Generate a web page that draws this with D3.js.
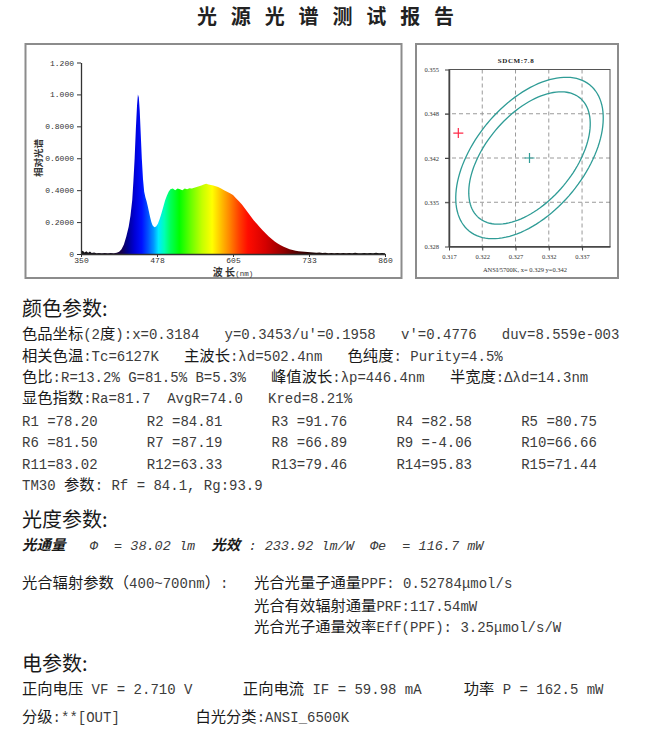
<!DOCTYPE html>
<html>
<head>
<meta charset="UTF-8">
<title>光源光谱测试报告</title>
<script src="https://cdn.jsdelivr.net/npm/d3@7"></script>
<style>
  body { margin: 0; background: #fff; }
  text { white-space: pre; }
</style>
</head>
<body>
<svg width="650" height="731"></svg>
<script>
// relative spectrum (nm / relative power)
var wavelengths = [350, 353, 356, 359, 362, 365, 368, 372, 376, 380, 385, 390, 395, 400, 405, 410, 414, 418, 422, 426,
    430, 433, 436, 438, 440, 442, 444, 445.5, 447, 448.5, 450, 452, 454, 456, 458, 460, 462, 464, 466, 468,
    470, 473, 476, 479, 482, 485, 488, 491, 494, 497, 500, 504, 508, 512, 516, 520, 524, 528, 532, 536,
    540, 544, 548, 552, 556, 560, 564, 568, 572, 576, 580, 585, 590, 595, 600, 605, 610, 615, 620, 625,
    630, 635, 640, 645, 650, 655, 660, 665, 670, 675, 680, 685, 690, 695, 700, 705, 710, 715, 720, 725,
    730, 735, 740, 745, 750, 755, 760, 765, 770, 775, 780, 785, 790, 795, 800, 805, 810, 815, 820, 825,
    830, 835, 840, 845, 850, 855, 860];
var relPower = [0.014, 0.020, 0.010, 0.018, 0.008, 0.015, 0.006, 0.010, 0.005, 0.007, 0.004, 0.006, 0.004, 0.006, 0.005, 0.008, 0.014, 0.030, 0.060, 0.110,
    0.170, 0.240, 0.340, 0.460, 0.600, 0.780, 0.930, 1.000, 0.980, 0.900, 0.770, 0.600, 0.470, 0.390, 0.355, 0.330, 0.300, 0.265, 0.230, 0.200,
    0.180, 0.168, 0.172, 0.190, 0.220, 0.255, 0.295, 0.335, 0.365, 0.390, 0.405, 0.410, 0.400, 0.410, 0.405, 0.400, 0.410, 0.405, 0.412, 0.410,
    0.415, 0.420, 0.425, 0.430, 0.435, 0.440, 0.435, 0.432, 0.430, 0.425, 0.420, 0.410, 0.400, 0.390, 0.380, 0.370, 0.350, 0.330, 0.310, 0.285,
    0.260, 0.235, 0.210, 0.190, 0.168, 0.148, 0.128, 0.110, 0.094, 0.079, 0.066, 0.055, 0.045, 0.037, 0.030, 0.025, 0.021, 0.018, 0.016, 0.014,
    0.012, 0.011, 0.009, 0.008, 0.010, 0.006, 0.008, 0.005, 0.007, 0.005, 0.006, 0.004, 0.007, 0.005, 0.006, 0.004, 0.008, 0.005, 0.004, 0.007,
    0.005, 0.006, 0.004, 0.008, 0.005, 0.006, 0.005];

// wavelength -> display colour used for the fill
var wlStops  = [350, 405, 418, 428, 440, 452, 462, 472, 480, 490, 500, 515, 535, 553, 570, 585, 600, 615, 630, 660, 690, 715, 740, 860];
var wlColors = ['#151515', '#1a0a28', '#16004c', '#00008e', '#0000d6', '#0010ff', '#0050ff', '#0098ff', '#00eaff', '#00ffb4', '#00ff5a', '#00ff00',
                '#6cff00', '#c4ff00', '#ffff00', '#ffc000', '#ff8200', '#ff4000', '#ff0c00', '#d40000', '#920000', '#4a0000', '#180000', '#111111'];

var xTicks = [350, 477.5, 605, 732.5, 860];
var xTickLabels = ['350', '478', '605', '733', '860'];
var yTicks = [0, 0.2, 0.4, 0.6, 0.8, 1.0, 1.2];
var yTickLabels = ['0', '0.2000', '0.4000', '0.6000', '0.8000', '1.000', '1.200'];

// chromaticity panel
var cieXTicks = [0.317, 0.322, 0.327, 0.332, 0.337];
var cieXTickLabels = ['0.317', '0.322', '0.327', '0.332', '0.337'];
var cieYTicks = [0.328, 0.33475, 0.3415, 0.34825, 0.355];
var cieYTickLabels = ['0.328', '0.335', '0.342', '0.348', '0.355'];
var ansiCenter = [0.3291, 0.3415];
var measuredPoint = [0.3184, 0.3453];
// [semi-major, semi-minor, tilt in degrees]
var ellipses = [[0.01437, 0.00825, 51], [0.01189, 0.00663, 50.5]];

// report text
var title = '光 源 光 谱 测 试 报 告';
var colorLines = [
    "色品坐标(2度):x=0.3184   y=0.3453/u'=0.1958   v'=0.4776   duv=8.559e-003",
    "相关色温:Tc=6127K   主波长:λd=502.4nm   色纯度: Purity=4.5%",
    "色比:R=13.2% G=81.5% B=5.3%   峰值波长:λp=446.4nm   半宽度:Δλd=14.3nm",
    "显色指数:Ra=81.7  AvgR=74.0   Kred=8.21%"
];
var riLabels = ['R1', 'R2', 'R3', 'R4', 'R5', 'R6', 'R7', 'R8', 'R9', 'R10', 'R11', 'R12', 'R13', 'R14', 'R15'];
var riValues = [78.20, 84.81, 91.76, 82.58, 80.75, 81.50, 87.19, 66.89, -4.06, 66.66, 83.02, 63.33, 79.46, 95.83, 71.44];
var tm30Line = 'TM30 参数: Rf = 84.1, Rg:93.9';
var photoLine = '光通量   Φ  = 38.02 lm  光效 : 233.92 lm/W  Φe  = 116.7 mW';
var parLabel = '光合辐射参数（400~700nm）: ';
var parLines = ['光合光量子通量PPF: 0.52784μmol/s', '光合有效辐射通量PRF:117.54mW', '光合光子通量效率Eff(PPF): 3.25μmol/s/W'];
var elecLines = ['正向电压 VF = 2.710 V      正向电流 IF = 59.98 mA     功率 P = 162.5 mW',
                 '分级:**[OUT]         白光分类:ANSI_6500K'];

var CJK = '"Noto Sans CJK SC", "Noto Sans", sans-serif',
    MONO = '"Liberation Mono", "DejaVu Sans Mono", monospace',
    SERIF = '"Liberation Serif", "DejaVu Serif", serif';

var svg = d3.select('svg');

svg.append('text')
    .attr('x', 197).attr('y', 23.5)
    .attr('textLength', 257).attr('lengthAdjust', 'spacing')
    .style('font', 'bold 20px ' + CJK).attr('fill', '#222')
    .text(title);

// ---------- spectrum ----------
var spec = svg.append('g');
spec.append('rect').attr('x', 25.5).attr('y', 44).attr('width', 376).attr('height', 234)
    .attr('fill', 'none').attr('stroke', '#8c8c8c').attr('stroke-width', 2);

var x = d3.scaleLinear().domain([350, 860]).range([81, 385]),
    y = d3.scaleLinear().domain([0, 1.2]).range([254, 62.5]);

var grad = svg.append('defs').append('linearGradient')
    .attr('id', 'wl').attr('gradientUnits', 'userSpaceOnUse')
    .attr('x1', x(350)).attr('x2', x(860)).attr('y1', 0).attr('y2', 0);
grad.selectAll('stop').data(wlStops).enter().append('stop')
    .attr('offset', d => (d - 350) / 510)
    .attr('stop-color', (d, i) => wlColors[i]);

var specData = wavelengths.map((w, i) => ({ w: w, v: relPower[i] }));
var area = d3.area().x(d => x(d.w)).y0(y(0)).y1(d => y(d.v));
spec.append('path').datum(specData).attr('d', area).attr('fill', 'url(#wl)');

var yAxis = spec.append('g').attr('transform', 'translate(' + x(350) + ',0)')
    .call(d3.axisLeft(y).tickValues(yTicks).tickFormat((d, i) => yTickLabels[i]).tickSize(4).tickSizeOuter(0));
var xAxis = spec.append('g').attr('transform', 'translate(0,' + y(0) + ')')
    .call(d3.axisBottom(x).tickValues(xTicks).tickFormat((d, i) => xTickLabels[i]).tickSize(3).tickSizeOuter(0));
[xAxis, yAxis].forEach(function (a) {
    a.select('.domain').attr('stroke', '#333').attr('stroke-width', 1.3);
    a.selectAll('.tick line').attr('stroke', '#333');
    a.selectAll('.tick text').style('font', '8px ' + MONO).attr('fill', '#333');
});
xAxis.selectAll('.tick text').attr('y', 5).attr('dy', '0.5em');

spec.append('text').attr('transform', 'translate(42,158) rotate(-90)')
    .attr('text-anchor', 'middle').style('font', 'bold 9.5px ' + CJK).attr('fill', '#333').text('相对光谱');
var xl = spec.append('text').attr('x', 233).attr('y', 275.5).attr('text-anchor', 'middle').attr('fill', '#333');
xl.append('tspan').style('font', 'bold 10px ' + CJK).text('波 长');
xl.append('tspan').style('font', '7.5px ' + MONO).text('(nm)');

// ---------- chromaticity ----------
var cie = svg.append('g');
cie.append('rect').attr('x', 416).attr('y', 44).attr('width', 202).attr('height', 234)
    .attr('fill', 'none').attr('stroke', '#8c8c8c').attr('stroke-width', 2);

var cx = d3.scaleLinear().domain([0.317, 0.3412]).range([449, 610]),
    cy = d3.scaleLinear().domain([0.328, 0.355]).range([246.5, 69.5]);

cie.selectAll('.vgrid').data(cieXTicks.slice(1)).enter().append('line')
    .attr('x1', d => cx(d)).attr('x2', d => cx(d)).attr('y1', cy(0.355)).attr('y2', cy(0.328) + 4)
    .attr('stroke', '#9a9a9a').attr('stroke-dasharray', '4,3');
cie.selectAll('.hgrid').data(cieYTicks.slice(1, 4)).enter().append('line')
    .attr('x1', cx(0.317) - 4).attr('x2', 610).attr('y1', d => cy(d)).attr('y2', d => cy(d))
    .attr('stroke', '#9a9a9a').attr('stroke-dasharray', '4,3');

cie.append('rect').attr('x', 449).attr('y', 69.5).attr('width', 161).attr('height', 177)
    .attr('fill', 'none').attr('stroke', '#555').attr('stroke-width', 1);

var cyAxis = cie.append('g').attr('transform', 'translate(449,0)')
    .call(d3.axisLeft(cy).tickValues(cieYTicks).tickFormat((d, i) => cieYTickLabels[i]).tickSize(4).tickSizeOuter(0));
var cxAxis = cie.append('g').attr('transform', 'translate(0,246.5)')
    .call(d3.axisBottom(cx).tickValues(cieXTicks).tickFormat((d, i) => cieXTickLabels[i]).tickSize(4).tickSizeOuter(0));
[cxAxis, cyAxis].forEach(function (a) {
    a.select('.domain').attr('stroke', '#444').attr('stroke-width', 1.5);
    a.selectAll('.tick line').attr('stroke', '#444');
    a.selectAll('.tick text').style('font', '6.5px ' + SERIF).attr('fill', '#333');
});
cyAxis.selectAll('.tick text').attr('x', -10);
cxAxis.selectAll('.tick text').attr('dy', '0.9em');

var ell = d3.line().x(d => cx(d[0])).y(d => cy(d[1])).curve(d3.curveLinearClosed);
ellipses.forEach(function (e) {
    var a = e[0], b = e[1], th = e[2] * Math.PI / 180, pts = [];
    for (var k = 0; k < 120; k++) {
        var t = k / 120 * 2 * Math.PI;
        pts.push([ansiCenter[0] + a * Math.cos(th) * Math.cos(t) - b * Math.sin(th) * Math.sin(t),
                  ansiCenter[1] + a * Math.sin(th) * Math.cos(t) + b * Math.cos(th) * Math.sin(t)]);
    }
    cie.append('path').attr('d', ell(pts)).attr('fill', 'none').attr('stroke', '#2f9c96').attr('stroke-width', 1.3);
});

function cross(p, color) {
    var px = cx(p[0]), py = cy(p[1]);
    cie.append('path').attr('d', 'M' + (px - 5) + ',' + py + 'H' + (px + 5) + 'M' + px + ',' + (py - 5) + 'V' + (py + 5))
        .attr('stroke', color).attr('stroke-width', 1.2);
}
cross(ansiCenter, '#2f9c96');
cross(measuredPoint, '#ff2a48');

cie.append('text').attr('x', 516).attr('y', 63).attr('text-anchor', 'middle')
    .style('font', 'bold 7px ' + SERIF).attr('letter-spacing', 0.6).attr('fill', '#222').text('SDCM:7.8');
cie.append('text').attr('x', 525).attr('y', 271.5).attr('text-anchor', 'middle')
    .style('font', '6.5px ' + SERIF).attr('fill', '#333').text('ANSI/5700K, x= 0.329 y=0.342');

// ---------- report text ----------
function richText(x0, y0, str, o) {
    o = o || {};
    var t = svg.append('text').attr('x', x0).attr('y', y0);
    str.split(/([\u3000-\u303f\u4e00-\u9fff\uff00-\uffef]+)/).forEach(function (part, i) {
        if (!part) return;
        var isCjk = i % 2 === 1;
        t.append('tspan').text(part)
            .attr('font-family', isCjk ? CJK : MONO)
            .attr('font-size', isCjk ? (o.cjk || 15.3) : (o.mono || 14))
            .attr('font-weight', isCjk && o.bold ? 'bold' : null)
            .attr('font-style', o.italic ? 'italic' : null)
            .attr('fill', isCjk ? '#1a1a1a' : '#3c3c3c');
    });
    return t;
}
function heading(x0, y0, str) {
    svg.append('text').attr('x', x0).attr('y', y0)
        .style('font', '20px ' + CJK).attr('fill', '#1a1a1a').text(str);
}

heading(22, 316, '颜色参数:');
var colorY = [339, 360.5, 382, 403];
colorLines.forEach((s, i) => richText(22, colorY[i], s));
riLabels.forEach(function (lab, i) {
    var row = Math.floor(i / 5), col = i % 5;
    richText(22 + col * 124.8, 425.5 + row * 21.5, (lab + '   ').slice(0, 3) + '=' + riValues[i].toFixed(2));
});
richText(22, 490, tm30Line);

heading(22, 526.5, '光度参数:');
richText(22, 549.5, photoLine, { italic: true, bold: true, mono: 13.5, cjk: 14.5 });
richText(22, 588, parLabel);
var parY = [588, 610.5, 632];
parLines.forEach((s, i) => richText(254, parY[i], s));

heading(22, 670.5, '电参数:');
richText(22, 693.5, elecLines[0]);
richText(22, 722, elecLines[1]);
</script>
</body>
</html>
